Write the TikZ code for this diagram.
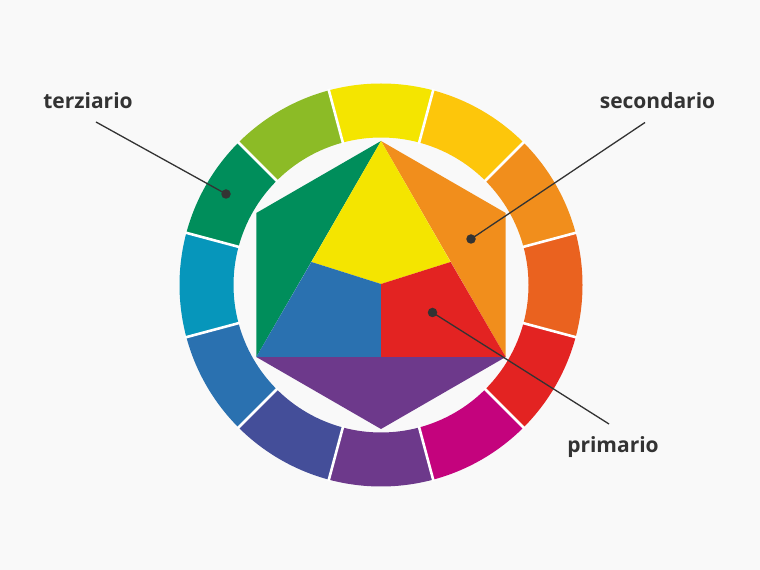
\documentclass[tikz,border=0pt]{standalone}
\usepackage{fontspec}
\setmainfont{Open Sans}
\definecolor{bg}{HTML}{F9F9F9}
\definecolor{txt}{HTML}{333333}
\definecolor{cY}{HTML}{F4E500}
\definecolor{cYO}{HTML}{FDC60B}
\definecolor{cO}{HTML}{F18E1C}
\definecolor{cRO}{HTML}{EA621F}
\definecolor{cR}{HTML}{E32322}
\definecolor{cRV}{HTML}{C4037D}
\definecolor{cV}{HTML}{6D398B}
\definecolor{cBV}{HTML}{444E99}
\definecolor{cB}{HTML}{2A71B0}
\definecolor{cBG}{HTML}{0696BB}
\definecolor{cG}{HTML}{008E5B}
\definecolor{cYG}{HTML}{8CBB26}
\tikzset{
  lbl/.style={font=\fontsize{21}{21}\selectfont\bfseries, text=txt, inner sep=0pt, anchor=base},
  leader/.style={draw=txt, line width=1.3pt},
  dotmark/.style={circle, fill=txt, minimum size=9.5pt, inner sep=0pt}
}
\begin{document}
\begin{tikzpicture}[x=1pt,y=1pt]
\fill[bg] (0,0) rectangle (760,570);
\useasboundingbox (0,0) rectangle (760,570);
\coordinate (C) at (381,285);
% ring
\begin{scope}[shift={(C)}]
\foreach \a/\c in {90/cY,60/cYO,30/cO,0/cRO,-30/cR,-60/cRV,-90/cV,-120/cBV,-150/cB,180/cBG,150/cG,120/cYG}{
  \fill[\c] ({\a-15}:201.5) arc[start angle=\a-15, end angle=\a+15, radius=201.5]
     -- ({\a+15}:147.5) arc[start angle=\a+15, end angle=\a-15, radius=147.5] -- cycle;
}
\foreach \a in {15,45,...,345}{
  \draw[white, line width=2.6pt] (\a:146) -- (\a:203);
}
\end{scope}
% hexagon and triangle
\coordinate (T) at (381,429);
\coordinate (BL) at (256.3,213);
\coordinate (BR) at (505.7,213);
\coordinate (HL) at (256.3,357);
\coordinate (HR) at (505.7,357);
\coordinate (HB) at (381,141);
\coordinate (JL) at (311.4,308);
\coordinate (JR) at (450.6,308);
\coordinate (JC) at (381,286);
\coordinate (JB) at (381,213);
\fill[cG] (T) -- (HL) -- (BL) -- cycle;
\fill[cO] (T) -- (HR) -- (BR) -- cycle;
\fill[cV] (BL) -- (HB) -- (BR) -- cycle;
\fill[cY] (T) -- (JL) -- (JC) -- (JR) -- cycle;
\fill[cB] (JL) -- (BL) -- (JB) -- (JC) -- cycle;
\fill[cR] (JR) -- (BR) -- (JB) -- (JC) -- cycle;
% labels
\node[lbl] (terz) at (88,461) {terziario};
\node[lbl] (sec) at (657.5,461) {secondario};
\node[lbl] (prim) at (613,117) {primario};
\node[dotmark] (d1) at (226,376) {};
\node[dotmark] (d2) at (471,331) {};
\node[dotmark] (d3) at (432.5,257.5) {};
\coordinate (e1) at (96,448);
\coordinate (e2) at (645,447.5);
\coordinate (e3) at (609,146);
\draw[leader] (e1) -- (d1.center);
\draw[leader] (e2) -- (d2.center);
\draw[leader] (e3) -- (d3.center);
\end{tikzpicture}
\end{document}
